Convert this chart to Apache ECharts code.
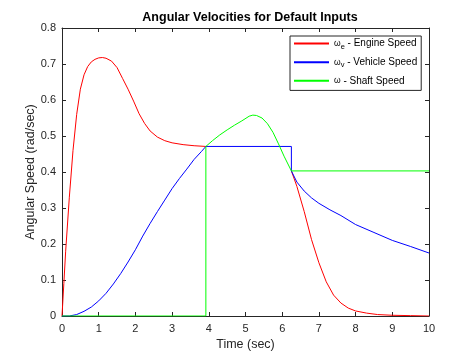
<!DOCTYPE html>
<html>
<head>
<meta charset="utf-8">
<script src="https://cdn.jsdelivr.net/npm/echarts@6/dist/echarts.min.js"></script>
<style>html,body{margin:0;padding:0;background:#fff}#c{width:474px;height:355px}</style>
</head>
<body>
<div id="c"></div>
<script>
// ---- data ----
// engine speed: hidden under the vehicle line while locked (3.92–6.25 s), so drawn with a gap there
const engineT = [0, 0.05, 0.1, 0.2, 0.3, 0.4, 0.5, 0.6, 0.7, 0.8, 0.9, 1.0, 1.1, 1.2, 1.35, 1.5, 1.65, 1.8, 1.95, 2.1, 2.25, 2.4, 2.6, 2.8, 3.0, 3.3, 3.6, 3.92, 5.0, 6.25, 6.4, 6.6, 6.8, 7.0, 7.2, 7.4, 7.6, 7.8, 8.0, 8.3, 8.6, 9.0, 9.5, 10];
const engineV = [0, 0.09, 0.18, 0.33, 0.46, 0.56, 0.63, 0.67, 0.693, 0.706, 0.713, 0.717, 0.718, 0.716, 0.708, 0.69, 0.66, 0.63, 0.597, 0.562, 0.535, 0.514, 0.497, 0.487, 0.481, 0.476, 0.473, 0.471, null, 0.403, 0.36, 0.29, 0.212, 0.148, 0.095, 0.058, 0.036, 0.022, 0.014, 0.008, 0.004, 0.002, 0.001, 0];

const vehicleT = [0, 0.2, 0.4, 0.6, 0.8, 1.0, 1.2, 1.4, 1.6, 1.8, 2.0, 2.2, 2.4, 2.6, 2.8, 3.0, 3.2, 3.4, 3.6, 3.8, 3.92, 6.25, 6.25, 6.4, 6.6, 6.8, 7.0, 7.3, 7.6, 8.0, 8.5, 9.0, 9.5, 10];
const vehicleV = [0, 0, 0.004, 0.013, 0.025, 0.042, 0.063, 0.089, 0.118, 0.150, 0.184, 0.222, 0.257, 0.290, 0.322, 0.354, 0.382, 0.408, 0.435, 0.457, 0.471, 0.471, 0.403, 0.372, 0.347, 0.328, 0.313, 0.295, 0.279, 0.254, 0.232, 0.21, 0.193, 0.175];

const shaftT = [0, 3.92, 3.92, 4.1, 4.3, 4.5, 4.7, 4.9, 5.1, 5.2, 5.3, 5.45, 5.6, 5.75, 5.9, 6.05, 6.25, 10];
const shaftV = [0, 0, 0.471, 0.487, 0.503, 0.517, 0.530, 0.542, 0.555, 0.558, 0.557, 0.550, 0.534, 0.51, 0.478, 0.444, 0.403, 0.403];

const seriesNames = ['ωe - Engine Speed', 'ωv - Vehicle Speed', 'ω - Shaft Speed'];
const legendRich = ['{w|ω}{s|e}{t| - Engine Speed}', '{w|ω}{s|v}{t| - Vehicle Speed}', '{w|ω}{t| - Shaft Speed}'];
const seriesColors = ['#ff0000', '#0000ff', '#00ff00'];

const xTicks = {min: 0, max: 10, interval: 1};
const yTicks = {min: 0, max: 0.8, interval: 0.1};

function zip(t, v) { return t.map((x, i) => [x, v[i] === null ? '-' : v[i]]); }

const axisCol = '#262626';
const font = 'Liberation Sans, Arial, Helvetica, sans-serif';

const chart = echarts.init(document.getElementById('c'), null, {renderer: 'canvas'});
const baseAxis = {
  axisLine: {show: true, onZero: false, lineStyle: {color: axisCol, width: 1}},
  axisTick: {show: true, inside: true, length: 4, lineStyle: {color: axisCol}},
  splitLine: {show: false}
};
chart.setOption({
  animation: false,
  backgroundColor: '#fff',
  title: {
    text: 'Angular Velocities for Default Inputs',
    left: 245, top: 6, textAlign: 'center',
    textStyle: {fontFamily: font, fontSize: 12.5, fontWeight: 'bold', color: '#000'}
  },
  grid: {left: 62, right: 45, top: 28, bottom: 39, containLabel: false, outerBoundsMode: 'none'},
  legend: {
    orient: 'vertical', left: 290, top: 36,
    padding: [2, 4, 4, 3], itemGap: 6, itemWidth: 35, itemHeight: 14,
    backgroundColor: '#fff', borderColor: axisCol, borderWidth: 1, borderRadius: 0,
    itemStyle: {opacity: 0},
    data: seriesNames,
    formatter: function (name) { return legendRich[seriesNames.indexOf(name)]; },
    textStyle: {
      fontFamily: font, fontSize: 10, color: '#000',
      rich: {
        w: {fontFamily: font, fontSize: 8.5, color: '#000', height: 14},
        s: {fontFamily: font, fontSize: 7.5, color: '#000', verticalAlign: 'bottom', padding: [6, 0, 0, 0], height: 14},
        t: {fontFamily: font, fontSize: 10, color: '#000', height: 14}
      }
    }
  },
  xAxis: [
    Object.assign({}, baseAxis, {
      type: 'value', position: 'bottom', min: xTicks.min, max: xTicks.max, interval: xTicks.interval,
      name: 'Time (sec)', nameLocation: 'middle', nameGap: 22, nameMoveOverlap: false,
      nameTextStyle: {fontFamily: font, fontSize: 12.5, color: axisCol},
      axisLabel: {fontFamily: font, fontSize: 11, color: axisCol, margin: 7}
    }),
    Object.assign({}, baseAxis, {
      type: 'value', position: 'top', min: xTicks.min, max: xTicks.max, interval: xTicks.interval,
      axisLabel: {show: false}
    })
  ],
  yAxis: [
    Object.assign({}, baseAxis, {
      type: 'value', position: 'left', min: yTicks.min, max: yTicks.max, interval: yTicks.interval,
      name: 'Angular Speed (rad/sec)', nameLocation: 'middle', nameGap: 25, nameMoveOverlap: false,
      nameTextStyle: {fontFamily: font, fontSize: 12.5, color: axisCol},
      axisLabel: {fontFamily: font, fontSize: 11, color: axisCol, margin: 6,
        formatter: function (v) { return v === 0 ? '0' : v.toFixed(1); }}
    }),
    Object.assign({}, baseAxis, {
      type: 'value', position: 'right', min: yTicks.min, max: yTicks.max, interval: yTicks.interval,
      axisLabel: {show: false}
    })
  ],
  series: [
    {name: seriesNames[0], type: 'line', data: zip(engineT, engineV)},
    {name: seriesNames[1], type: 'line', data: zip(vehicleT, vehicleV)},
    {name: seriesNames[2], type: 'line', data: zip(shaftT, shaftV)}
  ].map((s, i) => Object.assign(s, {
    xAxisIndex: 0, yAxisIndex: 0, symbol: 'none', smooth: false, connectNulls: false,
    color: seriesColors[i], lineStyle: {color: seriesColors[i], width: 1}, z: 2 + i
  }))
});
</script>
</body>
</html>
